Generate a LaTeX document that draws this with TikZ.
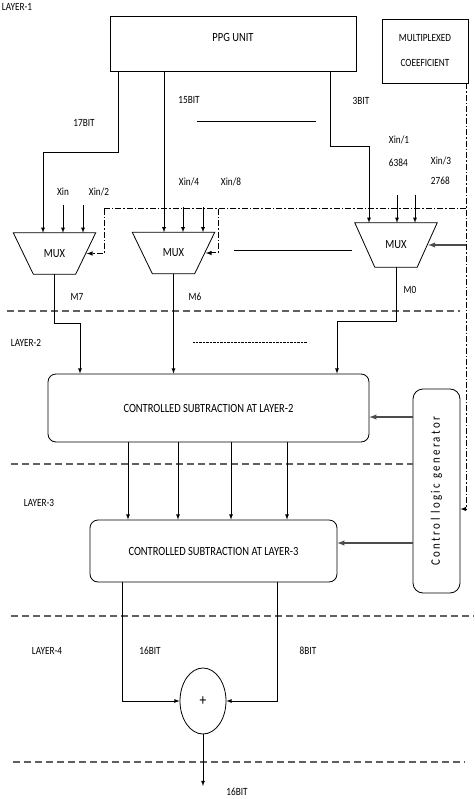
\documentclass[tikz,border=0pt]{standalone}
\usepackage{fontspec}
\setmainfont{Carlito}[FakeStretch=0.84]
\usetikzlibrary{shapes.geometric}

\begin{document}
\begin{tikzpicture}[x=1pt,y=-1pt,>=latex,font=\fontsize{11}{13}\selectfont,
		every node/.style={inner sep=1pt},
		muxbox/.style={minimum width=42pt,minimum height=41pt,inner sep=0pt,font=\fontsize{12.5}{14}\selectfont},
		csbox/.style={draw,thick,rounded corners=8pt,font=\fontsize{12.5}{14}\selectfont},
		wire/.style={thick,->},
		ctlwire/.style={line width=1.4pt,gray!60!black,->},
		layerline/.style={gray!75!black,line width=1.3pt,dash pattern=on 7pt off 4pt},
		ctrlline/.style={line width=1pt,dash pattern=on 6pt off 2pt on 1.5pt off 2pt}]
	\useasboundingbox (0,0) rectangle (474,799);
	
	% Boxes
	\node[draw,thick,minimum width=246pt,minimum height=55pt,text depth=12pt,font=\fontsize{12.5}{14}\selectfont] (ppg) at (233,43.5) {PPG UNIT};
	\node[draw,thick,minimum width=86pt,minimum height=64pt,align=center] (coef) at (425,51) {MULTIPLEXED\\[12pt]COEEFICIENT};
	\foreach \name/\xx/\yy/\hh in {mux7/54.5/253.5/41, mux6/173.5/253/41, mux0/396/245/44}{
		\node[muxbox,minimum height=\hh pt] (\name) at (\xx,\yy) {MUX};
		\draw[thick] ([xshift=-20pt]\name.north west) -- ([xshift=20pt]\name.north east) -- (\name.south east) -- (\name.south west) -- cycle;% the MUX outline
	}
	\node[csbox,minimum width=321pt,minimum height=68pt] (cs2) at (208.5,408) {CONTROLLED SUBTRACTION AT LAYER-2};
	\node[csbox,minimum width=247pt,minimum height=62pt] (cs3) at (213.5,551) {CONTROLLED SUBTRACTION AT LAYER-3};
	\node[csbox,rounded corners=10pt,minimum width=47pt,minimum height=204pt,
		label={[rotate=90,font=\fontsize{13}{15}\selectfont\addfontfeatures{LetterSpace=18}]center:Control logic generator}] (ctl) at (436.5,491) {};
	\node[draw,thick,ellipse,minimum width=46pt,minimum height=66pt,font=\fontsize{16}{18}\selectfont] (add) at (203,701) {+};
	
	% Layer separators
	\foreach \yy/\xa/\xb in {311/7/460, 464/11/413, 616/11/474, 762/13/465}
		\draw[layerline] (\xa,\yy) -- (\xb,\yy);
	
	% Labels
	\node (lay1) at (17,7) {LAYER-1};
	\node (lay2) at (26,343) {LAYER-2};
	\node (lay3) at (39,503) {LAYER-3};
	\node (lay4) at (47,651) {LAYER-4};
	\node (b17) at (84,123) {17BIT};
	\node (b15) at (189,100) {15BIT};
	\node (b3) at (361,101) {3BIT};
	\node (x1) at (63,192) {Xin};
	\node (x2) at (99,192) {Xin/2};
	\node (x4) at (189,182) {Xin/4};
	\node (x8) at (231,182) {Xin/8};
	\node[align=left] (x16) at (399,151.5) {Xin/1\\[10pt]6384};
	\node[align=left] (x32) at (441,171) {Xin/3\\[7pt]2768};
	\node (m7) at (77,297) {M7};
	\node (m6) at (195,297) {M6};
	\node (m0) at (410,290) {M0};
	\node (b16) at (150,651) {16BIT};
	\node (b8) at (308,651) {8BIT};
	\node (bout) at (237,792) {16BIT};
	
	% PPG outputs to the MUXes
	\coordinate (o17) at ([xshift=-115pt]ppg.south);
	\coordinate (o15) at ([xshift=-69pt]ppg.south);
	\coordinate (o3) at ([xshift=97pt]ppg.south);
	\coordinate (w17) at (43,152);
	\coordinate (w3) at (369,146);
	\draw[wire] (o17) |- (w17) -- (w17 |- mux7.north);
	\draw[wire] (o15) -- (o15 |- mux6.north);
	\draw[wire] (o3) |- (w3) -- (w3 |- mux0.north);
	\draw (197,121) -- (316,121);
	
	% Xin inputs
	\foreach \n/\xx/\yy/\m in {a/63/205/mux7, b/83/205/mux7, c/183/207/mux6, d/203/207/mux6, e/397/195/mux0, f/415/195/mux0}{
		\coordinate (in\n) at (\xx,\yy);
		\draw[wire] (in\n) -- (in\n |- \m.north);
	}
	\draw (234,250) -- (352,250);
	
	% Select lines from the coefficient box
	\coordinate (dtop) at ([xshift=-2pt]coef.south east);
	\coordinate (dbot) at (dtop |- 0,509);
	\coordinate (dr) at (dtop |- 0,209);
	\coordinate (d7) at (104,209);
	\coordinate (d6) at (218,209);
	\draw[ctrlline] (dtop) -- (dbot);
	\draw[ctrlline,->] (dbot) -- (dbot -| ctl.east);
	\draw[ctrlline] (dr) -- (d7);
	\draw[ctrlline,->] (d7) |- ([xshift=11pt]mux7.east);
	\draw[ctrlline,->] (d6) |- ([xshift=11pt]mux6.east);
	\draw[ctlwire] (dr |- mux0.east) -- ([xshift=11pt]mux0.east);
	
	% MUX outputs to layer 2
	\coordinate (w7) at (80,323);
	\coordinate (w0) at (337,321);
	\draw[wire] (mux7.south) |- (w7) -- (w7 |- cs2.north);
	\draw[wire] (mux6.south) -- (mux6.south |- cs2.north);
	\draw[wire] (mux0.south) |- (w0) -- (w0 |- cs2.north);
	\draw[densely dotted] (193,342) -- (307,342);
	
	% Layer 2 to layer 3
	\foreach \xx in {128,178,231,287}
		\draw[wire] (cs2.south -| \xx,0) -- (cs3.north -| \xx,0);
	
	% Control logic
	\coordinate (in2) at ([yshift=-9pt]cs2.east);
	\coordinate (in3) at ([yshift=8pt]cs3.east);
	\draw[ctlwire] (ctl.west |- in2) -- (in2);
	\draw[ctlwire] (ctl.west |- in3) -- (in3);
	
	% Layer 4 adder
	\coordinate (out) at (203,786);
	\draw[wire] (cs3.south -| 122,0) |- (add.west);
	\draw[wire] (cs3.south -| 277,0) |- (add.east);
	\draw[wire] (add.south) -- (out);
\end{tikzpicture}
\end{document}
